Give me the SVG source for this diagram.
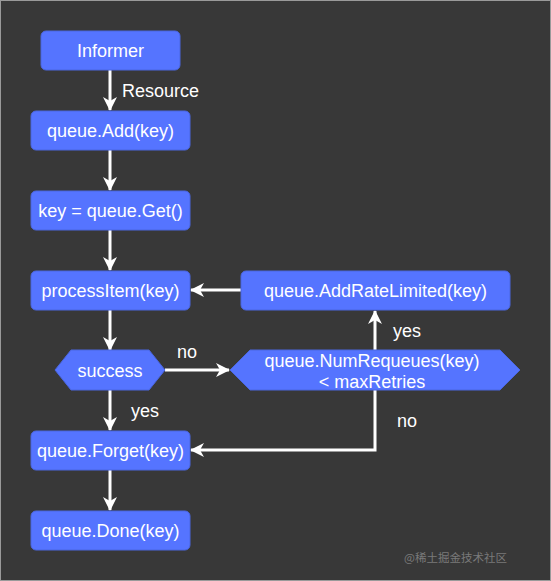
<svg xmlns="http://www.w3.org/2000/svg" width="551" height="581" viewBox="0 0 551 581">
<defs>
<style>
.n{fill:#5574FF;stroke:#4A66E0;stroke-width:1}
.t{font-family:"Liberation Sans",Arial,sans-serif;font-size:18px;fill:#fff;text-anchor:middle;dominant-baseline:central}
.l{font-family:"Liberation Sans",Arial,sans-serif;font-size:18px;fill:#fff;dominant-baseline:central}
.c{fill:none;stroke:#fff;stroke-width:3}
</style>
<marker id="a" markerWidth="14" markerHeight="14" viewBox="0 0 14 14" refX="13" refY="7" orient="auto" markerUnits="userSpaceOnUse">
<path d="M0,0 L14,7 L0,14 L4,7 Z" fill="#fff"/>
</marker>
</defs>
<rect x="0.5" y="0.5" width="550" height="580" fill="#383838" stroke="#9a9a9a" stroke-width="1"/>
<g id="connectors">
<line class="c" x1="110" y1="70" x2="110" y2="110" marker-end="url(#a)"/>
<line class="c" x1="110" y1="150" x2="110" y2="190" marker-end="url(#a)"/>
<line class="c" x1="110" y1="230" x2="110" y2="270" marker-end="url(#a)"/>
<line class="c" x1="110" y1="310" x2="110" y2="350" marker-end="url(#a)"/>
<line class="c" x1="110" y1="390" x2="110" y2="430" marker-end="url(#a)"/>
<line class="c" x1="110" y1="470" x2="110" y2="510" marker-end="url(#a)"/>
<line class="c" x1="241" y1="290" x2="191" y2="290" marker-end="url(#a)"/>
<line class="c" x1="165" y1="370" x2="229" y2="370" marker-end="url(#a)"/>
<line class="c" x1="375" y1="350" x2="375" y2="311" marker-end="url(#a)"/>
<polyline class="c" points="375,390 375,450 191,450" marker-end="url(#a)"/>
<text class="l" x="122" y="91">Resource</text>
<text class="l" x="177" y="352">no</text>
<text class="l" x="393" y="331">yes</text>
<text class="l" x="397" y="421">no</text>
<text class="l" x="131" y="411">yes</text>
</g>
<g id="informer"><rect class="n" x="41" y="31" width="139" height="39" rx="5"/><text class="t" x="110.5" y="51">Informer</text></g>
<g id="add"><rect class="n" x="31" y="111" width="159" height="39" rx="5"/><text class="t" x="110.5" y="131">queue.Add(key)</text></g>
<g id="get"><rect class="n" x="31" y="191" width="159" height="39" rx="5"/><text class="t" x="110.5" y="211">key = queue.Get()</text></g>
<g id="process"><rect class="n" x="31" y="271" width="159" height="39" rx="5"/><text class="t" x="110.5" y="291">processItem(key)</text></g>
<g id="success"><polygon class="n" points="55,370 71,350 149,350 165,370 149,390 71,390"/><text class="t" x="110" y="371">success</text></g>
<g id="ratelimited"><rect class="n" x="241" y="271" width="269" height="39" rx="5"/><text class="t" x="375.5" y="291">queue.AddRateLimited(key)</text></g>
<g id="numrequeues"><polygon class="n" points="230,370 250,350 500,350 520,370 500,390 250,390"/><text class="t" x="372" y="361">queue.NumRequeues(key)</text><text class="t" x="372" y="382">&lt; maxRetries</text></g>
<g id="forget"><rect class="n" x="31" y="431" width="159" height="39" rx="5"/><text class="t" x="110.5" y="451">queue.Forget(key)</text></g>
<g id="done"><rect class="n" x="31" y="511" width="159" height="39" rx="5"/><text class="t" x="110.5" y="531">queue.Done(key)</text></g>
<text x="507" y="557" font-family="'Noto Sans CJK SC','Liberation Sans',sans-serif" font-size="11.5" fill="#7a7a7a" text-anchor="end" dominant-baseline="central">@稀土掘金技术社区</text>
</svg>
